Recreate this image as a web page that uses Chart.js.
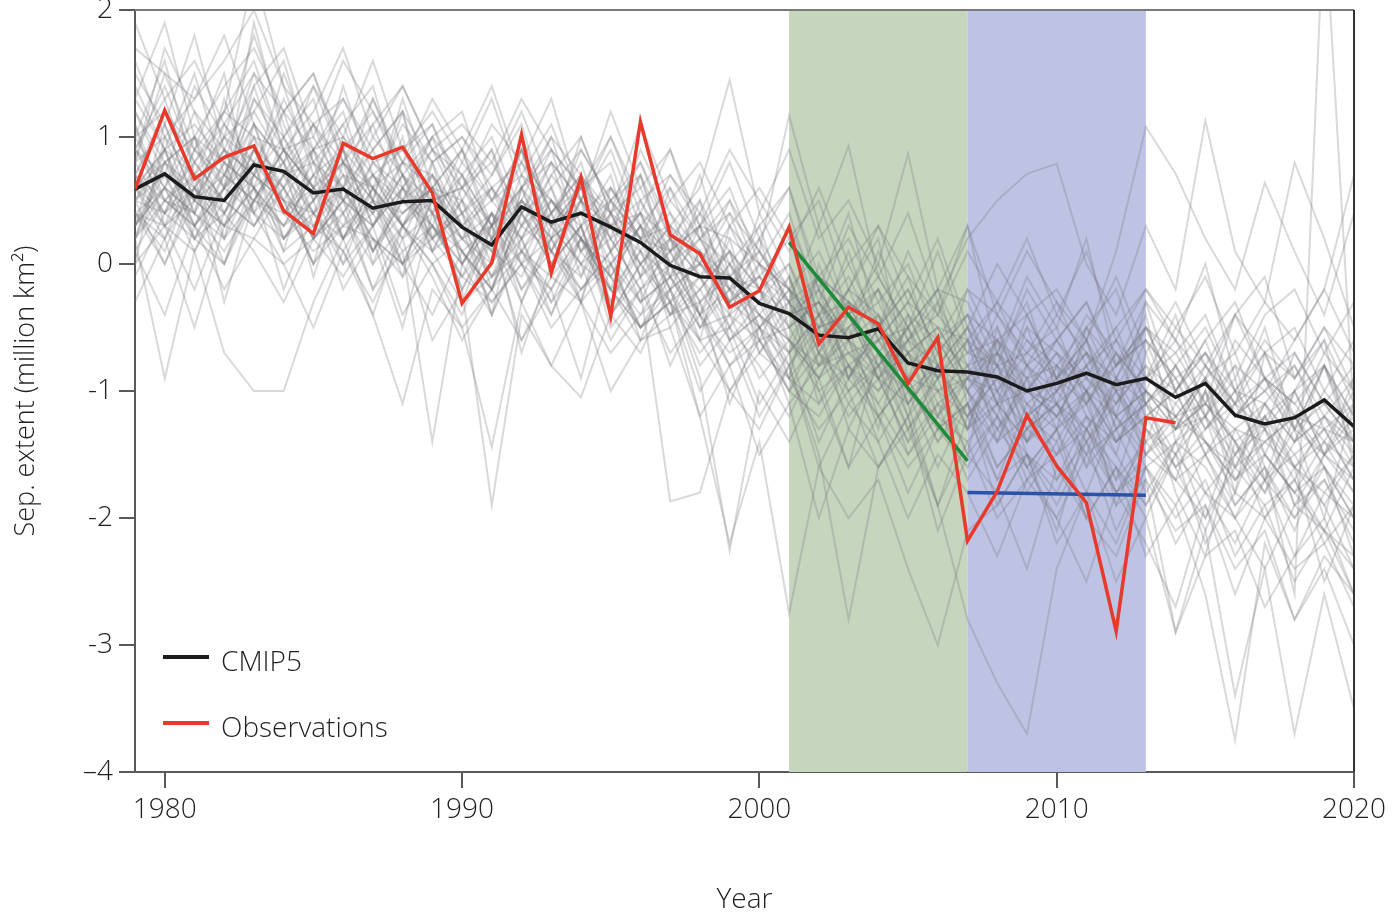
<!DOCTYPE html>
<html>
<head>
<meta charset="utf-8">
<script src="https://cdn.jsdelivr.net/npm/chart.js@4.4.1/dist/chart.umd.min.js"></script>
<style>
  html, body { margin: 0; padding: 0; background: #fff; }
  canvas { display: block; }
</style>
</head>
<body>
<canvas id="seaIceChart" width="1395" height="918"></canvas>
<script>
// years 1979..2020
const years = [];
for (let y = 1979; y <= 2020; y++) years.push(y);

const xTicks = [1980, 1990, 2000, 2010, 2020];
const yTicks = [-4, -3, -2, -1, 0, 1, 2];
const yTickLabels = ['\u20134', '-3', '-2', '-1', '0', '1', '2'];

// observed September extent anomaly, 1979..2014
const observed = [0.59, 1.21, 0.67, 0.84, 0.93, 0.42, 0.24, 0.95, 0.83, 0.92, 0.56,
  -0.31, 0.01, 1.02, -0.07, 0.68, -0.41, 1.12, 0.23, 0.08, -0.34,
  -0.21, 0.29, -0.63, -0.34, -0.47, -0.94, -0.58, -2.18, -1.79, -1.19,
  -1.59, -1.88, -2.89, -1.21, -1.25];

// CMIP5 multi-model mean, 1979..2020
const cmip5Mean = [0.59, 0.71, 0.53, 0.50, 0.78, 0.73, 0.56, 0.59, 0.44, 0.49, 0.50,
  0.29, 0.15, 0.45, 0.33, 0.40, 0.29, 0.17, -0.01, -0.10, -0.11,
  -0.31, -0.39, -0.56, -0.58, -0.51, -0.78, -0.84, -0.85, -0.89, -1.00,
  -0.94, -0.86, -0.95, -0.90, -1.05, -0.94, -1.19, -1.26, -1.21, -1.07,
  -1.28];

// trend lines
const trendYears = [2001, 2007];
const trendValues = [0.17, -1.55];
const pauseYears = [2007, 2013];
const pauseValues = [-1.80, -1.82];

// shaded periods
const bandStarts = [2001, 2007];
const bandEnds = [2007, 2013];
const bandColors = ['rgb(197,213,190)', 'rgb(190,195,228)'];

// individual ensemble members, 1979..2020
const ensemble = [
  [0.9, 1.3,0.6,0.2,1.1,0.8,0.4,0.9,0.3,0.7,0.1, 0.5,-0.2,0.6,0.1,0.7,0.2,0.4,-0.3,0.1,-0.5, 0.0,-0.6,-0.2,-0.9,-0.4,-1.1,-0.7,-1.3,-0.6,-1.4, -0.8,-1.0,-1.5,-0.7,-1.3,-0.9,-1.6,-1.1,-1.4,-0.8, -1.5],
  [0.3, 0.8,1.0,0.4,0.9,0.5,0.9,0.2,0.7,0.3,0.8, 0.0,0.4,0.2,0.6,-0.1,0.5,0.0,0.3,-0.4,0.2, -0.6,-0.1,-0.8,-0.3,-0.9,-0.5,-1.2,-0.6,-1.1,-0.8, -1.3,-0.5,-1.0,-1.4,-0.8,-1.2,-0.9,-1.7,-1.0,-1.5, -1.1],
  [1.1, 0.5,0.8,1.2,1.6,0.9,1.0,0.6,1.1,0.5,0.9, 0.7,0.3,0.9,0.4,0.6,0.8,0.1,0.5,0.2,0.4, -0.2,0.3,-0.4,-0.1,-0.6,-0.3,-0.5,-0.9,-0.4,-0.8, -0.6,-0.3,-0.9,-0.5,-0.7,-0.4,-1.0,-0.6,-0.9,-0.5, -1.0],
  [0.2, 0.6,0.1,0.5,0.3,0.6,0.0,0.4,-0.2,0.3,0.1, -0.3,-0.1,0.2,-0.4,0.1,-0.2,-0.5,-0.3,-0.7,-0.4, -0.9,-0.6,-1.0,-0.8,-1.2,-0.9,-1.4,-1.1,-1.6,-1.3, -1.5,-1.2,-1.8,-1.4,-1.7,-1.5,-1.9,-1.6,-2.0,-1.7, -2.1],
  [0.7, 0.4,0.9,0.7,1.3,1.0,0.5,0.8,0.6,0.2,0.7, 0.4,0.6,0.3,0.8,0.5,0.0,0.3,0.1,0.4,-0.2, 0.1,-0.3,-0.6,-0.2,-0.4,-0.9,-0.6,-0.4,-1.0,-0.7, -0.5,-1.1,-0.8,-0.6,-1.2,-0.9,-0.7,-1.3,-1.0,-0.8, -1.4],
  [0.5, 0.9,0.4,0.8,0.6,0.3,0.7,0.5,0.1,0.6,0.4, 0.1,-0.2,0.3,0.5,0.2,-0.1,0.3,-0.2,0.0,-0.3, -0.5,-0.2,-0.7,-0.9,-0.6,-1.0,-0.8,-1.2,-0.9,-1.1, -1.3,-1.0,-1.4,-1.2,-1.0,-1.5,-1.3,-1.1,-1.6,-1.4, -1.8],
  [0.8, 1.5,0.9,1.2,2.3,1.4,0.7,1.1,0.5,1.3,0.6, 0.9,0.2,1.0,0.4,0.8,0.1,0.7,-0.1,0.5,-0.4, 0.2,-0.2,-0.5,0.1,-0.6,-0.3,-0.8,-0.5,-1.1,-0.4, -0.9,-0.6,-1.2,-0.3,-1.0,-0.7,-1.1,-0.5,-1.3,-0.8, -1.2],
  [0.4, 0.2,0.6,0.0,0.5,0.4,0.1,0.3,0.5,0.0,0.2, 0.4,-0.1,0.1,-0.3,0.2,-0.1,-0.4,0.0,-0.2,-0.6, -0.3,-0.8,-0.5,-0.4,-0.9,-0.7,-1.0,-1.2,-0.9,-1.4, -1.1,-1.3,-1.0,-1.5,-1.2,-1.4,-1.7,-1.3,-1.6,-1.9, -1.5],
  [0.1, -0.4,0.3,-0.2,0.2,0.0,-0.5,0.1,-0.3,0.2,-0.6, -0.2,-1.9,-0.4,-0.8,-0.3,-1.0,-0.6,-0.5,-1.2,-0.8, -1.5,-1.1,-2.0,-1.3,-1.6,-1.2,-2.1,-1.5,-1.8,-2.4, -1.6,-2.0,-2.3,-1.7,-2.1,-1.9,-2.6,-2.0,-2.4,-2.2, -2.7],
  [1.0, 0.6,1.2,0.9,0.7,1.3,0.8,0.5,1.0,0.7,0.3, 0.8,0.5,0.2,0.7,0.4,0.6,0.2,0.4,-0.1,0.3, 0.0,-0.2,0.1,-0.4,-0.1,-0.5,-0.2,-0.7,-0.3,-0.6, -0.9,-0.4,-0.7,-1.0,-0.5,-0.8,-1.1,-0.7,-0.9,-0.6, -1.1],
  [0.6, 0.3,0.5,0.9,0.4,0.2,0.6,0.0,0.3,0.7,0.2, -0.1,0.4,0.0,0.2,-0.2,0.1,-0.3,-0.1,-0.5,-0.2, -0.7,-0.4,-0.3,-0.8,-0.6,-0.5,-1.0,-0.8,-1.3,-1.0, -0.7,-1.2,-1.4,-1.1,-0.9,-1.4,-1.6,-1.2,-1.5,-1.3, -1.7],
  [1.4, 0.9,1.1,0.8,1.5,1.2,0.9,1.3,0.8,0.9,1.1, 0.6,0.8,0.4,0.9,0.6,0.3,0.7,0.2,0.5,0.0, 0.3,0.6,-0.1,0.2,-0.3,0.0,-0.6,-0.2,-0.4,-0.7, -0.3,-0.8,-0.5,-0.2,-0.6,-0.9,-0.4,-0.7,-0.5,-1.0, -0.6],
  [0.3, 0.7,0.2,0.6,0.8,0.1,0.3,0.6,0.2,0.0,0.5, 0.1,0.3,0.6,0.0,0.3,-0.3,0.1,-0.4,-0.2,0.1, -0.5,-0.8,-0.4,-1.0,-0.7,-1.3,-0.9,-0.6,-1.4,-1.2, -1.0,-0.7,-1.3,-1.1,-1.5,-1.0,-1.7,-1.4,-1.2,-1.6, -1.9],
  [0.7, 1.1,0.5,0.3,0.9,0.6,0.2,0.5,0.7,0.4,0.6, 0.2,0.0,0.5,0.3,0.0,0.4,-0.1,0.2,-0.3,-0.1, -0.4,-0.6,-0.9,-0.5,-0.2,-1.0,-1.2,-0.8,-0.7,-1.1, -0.9,-1.4,-1.1,-0.8,-1.3,-1.2,-1.5,-1.8,-1.4,-1.2, -1.6],
  [-0.1, 0.4,0.2,0.0,0.6,0.3,0.5,-0.2,0.2,0.0,-0.4, 0.1,-0.3,0.0,-0.2,0.3,-0.5,-0.2,-0.7,-0.4,-1.0, -0.6,-0.9,-1.1,-0.8,-1.4,-1.0,-1.3,-1.6,-1.2,-1.5, -1.8,-1.3,-1.6,-2.0,-1.5,-1.8,-2.2,-1.7,-2.0,-1.6, -2.3],
  [0.9, 0.5,0.7,1.0,1.2,0.8,1.1,0.7,0.4,0.8,0.6, 0.9,0.5,0.7,0.3,0.6,0.4,0.0,0.3,0.1,-0.1, 0.2,-0.5,-0.3,-0.6,-0.2,-0.7,-0.9,-0.5,-0.8,-1.0, -1.2,-0.8,-0.6,-1.1,-1.3,-0.9,-1.2,-1.0,-0.8,-1.3, -1.1],
  [0.5, 0.8,1.0,0.6,1.1,0.4,0.7,0.9,0.3,0.6,0.2, 0.5,0.0,0.4,0.1,0.5,0.2,-0.2,0.1,-0.3,0.0, -0.4,-0.1,-0.7,-0.4,-0.8,-0.6,-0.3,-1.1,-0.8,-1.3, -0.9,-1.1,-0.7,-1.2,-1.0,-1.5,-1.1,-1.3,-1.7,-1.2, -1.4],
  [0.2, 0.5,0.3,0.7,0.5,0.9,0.3,0.1,0.5,0.2,0.4, -0.2,0.2,0.5,0.1,-0.1,0.3,0.0,-0.4,0.1,-0.3, -0.1,-0.5,-0.3,-0.7,-1.0,-0.6,-1.1,-0.9,-0.7,-1.2, -1.4,-1.0,-1.2,-1.5,-1.3,-1.1,-1.4,-1.7,-1.3,-1.5, -1.2],
  [1.2, 0.8,0.6,1.0,1.8,1.1,0.6,0.9,1.2,0.7,0.4, 0.7,0.3,0.8,0.5,0.2,0.6,0.3,0.0,0.2,-0.2, -0.1,-0.3,-0.6,-0.5,-0.3,-0.8,-0.6,-1.0,-0.7,-0.9, -0.6,-1.0,-0.8,-0.5,-1.0,-0.7,-1.2,-0.9,-1.1,-0.8, -1.3],
  [0.4, 0.0,0.5,0.3,0.2,0.6,0.2,0.4,0.0,0.3,-0.1, -0.6,-0.2,0.1,-0.1,0.2,-0.4,0.0,-0.3,-0.6,-0.5, -0.8,-1.2,-0.7,-1.0,-0.8,-1.5,-1.1,-1.3,-1.0,-1.6, -1.3,-1.1,-1.7,-1.4,-1.2,-1.8,-1.5,-1.3,-1.9,-1.5, -1.7],
  [0.6, 0.9,0.7,0.4,0.8,0.5,0.3,0.7,0.6,0.3,0.5, 0.2,0.4,0.1,0.5,0.2,0.0,0.3,-0.2,0.0,-0.3, -0.1,-0.4,-0.2,-0.6,-0.4,-0.7,-0.5,-0.9,-0.6,-0.8, -1.0,-0.7,-0.9,-1.1,-0.8,-1.3,-1.0,-1.6,-2.6,2.8, -1.2],
  [0.8, 0.4,0.6,0.9,0.7,1.0,0.6,0.3,0.8,0.5,0.7, 0.3,0.6,0.2,0.4,0.7,0.1,0.4,0.2,-0.1,0.1, -0.2,-0.5,-0.1,-0.3,-0.5,-0.2,-0.7,-0.4,-0.9,-0.5, -0.7,-1.0,-0.6,-0.9,-0.7,-1.1,-0.8,-1.0,-0.6,-0.2, 0.7],
  [0.0, 0.3,-0.2,0.4,0.1,-0.3,0.2,-0.1,0.3,-0.4,0.0, -0.5,-0.2,-0.6,-0.1,-0.3,-0.7,-0.4,-0.2,-0.8,-0.5, -1.1,-0.7,-1.4,-0.9,-1.2,-1.6,-1.3,-1.1,-1.7,-1.5, -1.9,-1.4,-1.8,-1.6,-2.2,-1.8,-2.0,-2.4,-1.9,-2.1, -2.6],
  [0.5, 0.7,0.3,0.6,0.9,0.4,0.6,0.2,0.5,0.1,0.3, 0.0,0.4,-0.2,0.1,-0.3,0.0,-0.5,-0.2,-0.6,-1.0, -0.7,-0.9,-1.3,-1.0,-1.6,-1.2,-1.9,-2.8,-3.3,-3.7, -2.4,-1.8,-2.2,-1.6,-2.0,-1.7,-2.3,-1.9,-2.5,-2.1, -2.4],
  [0.6, 0.2,0.8,0.5,0.3,0.7,0.4,0.6,0.1,0.5,0.3, 0.1,-0.2,0.4,0.0,0.3,-0.3,0.2,-0.4,-0.1,-0.6, -0.4,-0.9,-0.6,-1.1,-0.8,-1.3,-1.0,-1.5,-1.2,-1.8, -1.4,-2.0,-1.6,-2.3,-1.9,-2.6,-3.75,-2.2,-2.8,-2.4, -3.0],
  [0.3, 0.6,0.4,0.1,0.5,0.3,0.7,0.2,0.4,0.0,0.3, -0.1,0.2,-0.3,0.3,0.0,-0.2,-0.5,-0.1,-0.4,-0.7, -0.5,-1.0,-0.7,-1.2,-0.9,-1.4,-1.1,-1.7,-1.3,-1.6, -2.0,-1.5,-1.9,-1.7,-2.9,-2.1,-3.4,-2.4,-3.7,-2.6, -3.5],
  [0.7, 0.5,0.3,0.8,0.6,0.2,0.4,0.7,0.1,0.5,0.2, 0.4,-0.4,0.1,-0.2,0.2,-0.1,-0.5,-0.3,-1.2,-2.2, -1.4,-2.75,-1.6,-2.0,-1.7,-2.4,-3.0,-2.1,-1.9,-1.5, -2.2,-1.8,-2.5,-2.0,-2.9,-2.3,-2.1,-2.7,-2.3,-2.0, -2.6],
  [0.4, 0.3,0.1,0.6,0.4,0.0,0.2,0.5,-0.2,0.1,-1.4, 0.0,-0.4,0.2,-0.3,0.0,-0.6,-0.2,-1.87,-1.8,-1.0, -1.3,-0.8,-1.5,-2.8,-1.6,-1.3,-1.9,-1.4,-2.0,-1.7, -1.3,-2.0,-1.6,-1.9,-1.5,-2.2,-1.8,-2.0,-1.7,-2.1, -2.3],
  [0.2, -0.9,0.1,-0.7,-1.0,-1.0,-0.3,0.2,-0.4,-1.1,-0.2, -0.5,-1.44,-0.3,-0.8,-1.05,-0.4,-0.7,-0.2,-0.9,-2.26, -1.0,-1.4,-0.9,-1.6,-1.2,-1.8,-1.3,-1.1,-1.9,-1.5, -1.7,-1.4,-2.1,-1.6,-1.9,-1.5,-2.0,-1.7,-2.3,-1.8, -2.0],
  [1.7, 1.5,1.3,1.6,2.0,1.4,1.1,1.3,0.9,1.2,0.8, 1.0,0.7,1.2,0.6,0.9,0.5,0.8,0.3,0.6,1.45, 0.4,0.9,0.2,0.5,0.0,0.87,-0.2,0.3,-0.4,0.1, -0.3,-0.6,0.1,1.08,0.71,0.2,-0.2,0.64,0.1,-0.4, 0.4],
  [1.3, 1.9,1.0,1.4,1.7,1.2,1.5,0.8,1.1,1.4,0.9, 0.6,1.1,0.8,1.3,0.5,1.0,0.4,0.9,0.2,0.5, 0.1,1.17,0.3,0.93,-0.1,0.4,-0.3,0.2,0.5,0.71, 0.79,0.0,-0.4,0.3,-0.2,1.13,0.1,-0.3,0.8,0.2, -0.5],
  [0.9, 0.7,0.5,1.1,0.8,0.6,0.9,0.4,0.7,0.3,0.6, 0.5,0.2,0.6,0.3,0.5,0.1,0.4,-0.1,0.2,0.0, -0.3,0.0,-0.5,-0.2,-0.7,-0.4,-0.6,-0.8,-0.5,-1.0, -0.7,-0.9,-1.1,-0.8,-1.0,-0.6,-1.2,-0.9,-1.1,-1.4, -1.0],
  [0.5, 0.4,0.7,0.3,0.6,0.8,0.2,0.5,0.3,0.6,0.1, 0.3,0.1,-0.1,0.4,0.0,0.2,-0.2,0.0,-0.4,-0.2, -0.5,-0.7,-0.4,-0.9,-0.5,-1.1,-0.8,-1.0,-1.3,-0.9, -1.2,-1.0,-1.4,-1.2,-1.6,-1.3,-1.1,-1.5,-1.8,-1.4, -1.6],
  [0.8, 1.0,0.7,0.5,1.0,0.9,0.6,0.4,0.8,0.6,0.9, 0.4,0.1,0.7,0.5,0.3,0.5,0.2,0.3,0.0,-0.1, -0.2,-0.4,-0.3,-0.6,-0.8,-0.5,-0.9,-0.7,-0.8,-1.2, -1.0,-0.8,-1.2,-1.0,-1.3,-1.1,-1.4,-1.2,-1.0,-1.5, -1.3],
  [0.1, 0.5,0.4,0.2,0.7,0.5,0.0,0.3,0.2,-0.1,0.3, -0.1,-0.3,0.0,-0.5,-0.2,0.1,-0.6,-0.4,-0.3,-0.8, -0.6,-1.0,-1.2,-0.8,-1.1,-1.5,-1.2,-1.4,-1.1,-1.7, -1.5,-1.3,-1.8,-1.5,-1.7,-2.0,-1.6,-1.9,-1.7,-2.2, -1.9],
  [0.6, 0.8,0.5,0.7,0.5,0.9,0.6,0.8,0.5,0.4,0.6, 0.2,0.3,0.5,0.2,0.4,0.3,0.1,-0.1,0.0,-0.2, -0.4,-0.6,-0.8,-0.7,-0.6,-0.9,-1.0,-0.9,-1.1,-1.0, -1.1,-0.9,-1.2,-1.0,-1.2,-1.1,-1.3,-1.4,-1.2,-1.3, -1.4],
  [1.0, 1.2,0.9,0.6,1.4,0.7,0.9,1.0,0.6,0.8,0.7, 0.3,0.5,0.9,0.4,0.7,0.3,0.5,0.1,0.3,0.2, 0.0,-0.3,-0.1,-0.4,-0.2,-0.6,-0.4,-0.7,-0.6,-0.9, -0.8,-0.5,-0.8,-0.6,-0.9,-0.7,-1.0,-1.1,-0.8,-1.2, -0.9],
  [0.4, 0.6,0.2,0.4,0.7,0.5,0.4,0.2,0.6,0.3,0.0, 0.2,-0.1,0.3,0.1,-0.2,0.0,-0.3,-0.1,-0.5,-0.4, -0.6,-0.5,-0.9,-0.7,-0.9,-1.1,-0.8,-1.3,-1.1,-1.4, -1.2,-1.5,-1.3,-1.1,-1.6,-1.4,-1.7,-1.5,-1.8,-1.6, -2.0],
  [0.7, 0.3,0.6,0.4,0.9,0.7,0.8,0.6,0.4,0.7,0.5, 0.6,0.2,0.4,0.6,0.1,0.4,0.2,0.1,0.3,-0.1, 0.1,-0.2,-0.4,-0.3,-0.5,-0.7,-0.5,-0.6,-0.8,-0.7, -0.9,-0.6,-1.0,-0.9,-1.1,-0.8,-1.2,-1.0,-1.3,-1.1, -1.4],
  [0.2, 0.9,0.3,0.6,1.0,0.2,0.5,0.8,0.0,0.6,0.3, 0.0,0.3,-0.2,0.2,0.4,-0.2,0.1,-0.3,-0.1,-0.4, -0.2,-0.7,-0.4,-0.8,-1.0,-0.7,-1.2,-0.9,-1.0,-1.3, -1.1,-1.4,-1.0,-1.3,-1.5,-1.2,-1.6,-1.4,-1.6,-1.8, -1.5],
  [1.5, 1.1,1.8,0.9,1.4,1.7,1.0,1.6,1.2,0.8,1.3, 0.9,1.4,0.7,1.1,0.5,1.2,0.6,0.9,0.3,0.8, 0.2,0.6,-0.2,0.4,-0.5,0.1,-0.4,0.3,-0.7,-0.1, -0.5,0.2,-0.8,-0.3,-0.6,0.0,-0.9,-0.4,-0.2,-0.7, -0.3],
  [0.0, 1.0,0.4,1.3,0.6,0.1,0.9,1.2,0.5,-0.1,0.8, 0.3,-0.4,0.6,0.9,0.2,-0.2,0.5,0.0,-0.6,0.3, -0.2,-0.9,0.0,-0.6,-1.3,-0.4,-0.9,-1.5,-0.5,-1.2, -0.8,-1.6,-0.9,-0.4,-1.4,-1.0,-1.8,-0.7,-1.3,-2.0, -1.1],
  [1.1, 0.3,0.9,1.5,0.4,1.0,1.3,0.5,0.9,1.2,0.2, 0.7,0.1,0.5,1.0,0.3,0.7,-0.1,0.6,0.2,-0.3, 0.4,-0.1,-0.7,-0.2,0.2,-0.9,-0.3,-0.8,-1.2,-0.5, -1.1,-0.6,-1.3,-0.9,-0.4,-1.2,-0.8,-1.5,-1.0,-0.6, -1.6],
  [0.8, 1.7,1.2,0.6,1.9,1.0,1.4,0.8,1.3,0.7,1.0, 1.2,0.5,0.9,0.2,1.0,0.4,0.6,0.1,0.7,-0.1, -0.3,0.3,-0.2,-0.6,0.1,-0.4,-0.9,-0.2,-0.7,-0.3, -1.0,-0.5,-0.2,-0.9,-0.6,-1.1,-0.4,-0.9,-1.2,-0.7, -1.0],
  [0.4, 0.1,0.7,-0.3,0.5,0.8,-0.1,0.6,0.2,-0.5,0.4, -0.2,0.3,-0.7,0.0,0.5,-0.4,-0.1,-0.8,-0.3,-1.1, -0.5,-0.2,-1.0,-1.6,-0.7,-1.1,-1.9,-1.2,-0.8,-1.5, -2.1,-1.3,-1.7,-1.0,-1.8,-2.3,-1.4,-2.0,-1.6,-2.5, -1.9],
  [1.9, 1.3,1.6,1.1,1.5,0.9,1.2,1.7,1.0,1.4,0.9, 1.1,0.8,1.3,0.9,0.6,1.0,0.5,0.7,0.4,0.9, 0.5,0.1,0.6,0.0,0.3,-0.3,0.2,-0.5,0.0,-0.4, -0.2,-0.6,-0.1,-0.7,-0.3,-0.8,-0.4,-0.1,-0.9,-0.5, -0.8],
  [0.6, 0.9,0.2,0.7,1.1,0.5,0.0,0.8,0.4,1.0,0.1, 0.6,0.9,0.1,0.4,-0.3,0.6,0.2,-0.2,0.3,-0.6, -0.4,-0.7,-0.1,-0.9,-0.5,-1.2,-0.6,-1.0,-1.4,-0.8, -1.1,-1.5,-0.9,-1.3,-1.7,-1.0,-1.4,-1.8,-1.2,-1.6, -2.0],
  [0.9, 1.4,0.8,1.1,0.7,1.5,0.9,0.6,1.3,0.8,1.1, 0.5,0.9,0.3,0.7,1.0,0.4,0.8,0.2,0.0,0.5, -0.1,0.2,-0.4,0.0,-0.5,-0.2,-0.7,-0.4,-0.6,-1.0, -0.6,-0.9,-0.5,-1.1,-0.8,-0.5,-1.0,-1.3,-0.7,-1.1, -1.4],
  [0.3, 0.6,1.0,0.2,0.5,0.9,0.4,0.0,0.6,0.3,0.7, 0.0,0.4,-0.3,0.2,0.6,-0.1,0.3,-0.5,-0.2,0.1, -0.7,-0.3,-1.1,-0.6,-0.9,-1.4,-0.8,-1.2,-1.7,-1.1, -1.5,-1.0,-1.9,-1.3,-1.6,-2.1,-1.5,-1.2,-1.9,-1.7, -2.2],
  [1.2, 0.7,1.4,1.0,0.6,1.2,1.5,0.9,0.6,1.1,0.8, 1.0,0.6,0.8,0.3,0.9,0.5,0.2,0.7,0.3,0.6, 0.0,0.4,-0.3,0.3,-0.1,-0.5,0.1,-0.6,-0.3,-0.8, -0.4,-0.7,-1.0,-0.5,-0.8,-1.2,-0.6,-0.9,-1.3,-0.8, -1.2],
  [-0.3, 0.2,-0.5,0.3,0.6,-0.2,0.4,0.1,-0.4,0.3,0.0, -0.4,0.2,-0.6,-0.2,-0.9,0.0,-0.5,-0.3,-1.0,-0.6, -1.2,-0.8,-1.6,-1.1,-1.4,-2.0,-1.5,-1.8,-2.3,-1.7, -2.0,-2.5,-1.8,-2.2,-2.7,-1.9,-2.4,-2.1,-2.8,-2.3, -2.6],
  [0.7, 1.2,0.8,0.5,1.3,0.9,0.6,1.4,0.7,0.5,1.0, 0.4,0.7,1.1,0.3,0.6,0.2,0.9,0.4,0.1,-0.2, 0.3,-0.4,-0.1,-0.3,-0.8,-0.5,-0.2,-1.0,-0.6,-0.4, -0.9,-0.7,-1.1,-0.6,-0.9,-1.3,-1.0,-0.7,-1.2,-1.5, -0.9],
  [1.6, 1.0,1.3,1.8,1.1,0.8,1.4,1.0,1.6,0.9,1.2, 0.8,1.3,0.6,1.0,0.7,0.4,1.1,0.5,0.8,0.3, 0.6,0.2,0.5,-0.2,0.3,-0.1,-0.4,0.1,-0.3,0.2, -0.4,0.1,-0.6,-0.2,-0.5,-0.1,-0.7,-0.3,-0.6,-0.2, -0.7],
  [0.5, 0.0,0.6,0.3,0.8,0.2,0.5,0.9,0.1,0.4,0.6, 0.1,-0.2,0.4,0.0,0.3,-0.4,0.0,0.2,-0.5,-0.1, -0.6,-1.0,-0.5,-1.3,-0.8,-1.0,-1.6,-1.1,-1.4,-0.9, -1.7,-1.2,-1.5,-1.9,-1.4,-1.6,-2.0,-1.5,-1.8,-2.1, -1.6],
  [1.0, 1.6,0.7,1.2,1.0,0.6,1.1,0.8,0.5,1.2,0.4, 0.9,0.3,0.6,0.8,0.1,0.5,0.7,0.0,0.4,0.1, -0.2,0.0,-0.6,-0.3,-0.5,-0.1,-0.8,-0.5,-1.0,-0.6, -0.8,-1.1,-0.7,-1.0,-1.3,-0.8,-1.1,-0.9,-1.4,-1.0, -1.3],
  [0.2, 0.8,0.3,0.0,0.7,0.4,0.8,0.2,0.6,0.0,0.5, -0.3,0.3,0.0,-0.4,0.2,-0.2,-0.6,0.0,-0.4,-0.8, -0.5,-1.1,-0.8,-0.5,-1.2,-0.9,-1.4,-1.0,-1.6,-1.3, -1.1,-1.6,-1.3,-1.8,-1.4,-1.2,-1.9,-1.6,-2.1,-1.5, -1.8],
  [1.3, 0.9,1.5,0.7,1.2,1.6,0.8,1.1,1.4,0.6,1.0, 0.7,1.0,0.4,0.8,0.5,0.9,0.3,0.6,0.0,0.4, 0.1,-0.3,0.3,-0.4,0.0,-0.6,-0.2,-0.3,-0.8,-0.2, -0.6,-0.3,-0.8,-0.5,-1.0,-0.6,-0.3,-0.9,-0.7,-1.1, -0.8],
  [0.6, 0.4,1.0,0.8,0.3,0.7,1.1,0.5,0.3,0.8,0.4, 0.2,0.6,0.0,0.5,0.1,0.3,-0.3,0.2,-0.1,-0.5, -0.2,-0.6,-0.9,-0.4,-0.7,-1.2,-0.9,-0.6,-1.1,-1.4, -1.0,-1.3,-0.9,-1.5,-1.1,-1.4,-1.8,-1.2,-1.6,-1.3, -1.7],
  [0.9, 0.6,0.4,1.0,0.8,1.2,0.5,1.0,0.7,0.9,0.5, 0.6,0.3,0.9,0.1,0.5,0.3,0.4,0.0,0.3,-0.3, 0.0,-0.2,-0.5,-0.4,-0.9,-0.6,-0.8,-1.3,-0.7,-1.0, -1.2,-0.8,-1.4,-1.0,-1.2,-0.9,-1.5,-1.1,-1.4,-1.2, -1.5],
  [0.3, 1.1,0.5,0.9,0.4,0.7,0.2,0.6,0.9,0.3,0.6, 0.3,-0.1,0.5,0.2,-0.3,0.4,-0.1,0.1,-0.4,0.0, -0.5,-0.3,-0.8,-0.6,-1.1,-0.7,-1.3,-0.9,-1.2,-1.6, -1.3,-1.8,-1.2,-1.6,-1.4,-2.0,-1.3,-1.7,-1.5,-1.9, -2.4]
];

const FONT = '"Open Sans", "Liberation Sans", sans-serif';
const textColor = '#231f20';
const axisColor = '#58595b';

function pairs(xs, ys) {
  return ys.map((v, i) => ({ x: xs[i], y: v }));
}

const datasets = [];

datasets.push({
  label: 'Observations',
  data: pairs(years, observed),
  borderColor: '#e8392b',
  borderWidth: 3.5,
  order: 0
});
datasets.push({
  label: 'pause',
  data: pairs(pauseYears, pauseValues),
  borderColor: '#2a52a6',
  borderWidth: 3.5,
  order: 1
});
datasets.push({
  label: 'trend',
  data: pairs(trendYears, trendValues),
  borderColor: '#1e8b3a',
  borderWidth: 3.5,
  order: 2
});
datasets.push({
  label: 'CMIP5',
  data: pairs(years, cmip5Mean),
  borderColor: '#1b1b1b',
  borderWidth: 3.5,
  order: 3
});
ensemble.forEach(function (member, i) {
  datasets.push({
    label: 'member ' + (i + 1),
    data: pairs(years, member),
    borderColor: 'rgba(120,120,124,0.28)',
    borderWidth: 2,
    order: 10
  });
});

// shaded periods behind the lines
const bandsPlugin = {
  id: 'bands',
  beforeDatasetsDraw(chart) {
    const { ctx, chartArea, scales } = chart;
    ctx.save();
    for (let i = 0; i < bandStarts.length; i++) {
      const x0 = scales.x.getPixelForValue(bandStarts[i]);
      const x1 = scales.x.getPixelForValue(bandEnds[i]);
      ctx.fillStyle = bandColors[i];
      ctx.fillRect(x0, chartArea.top, x1 - x0, chartArea.bottom - chartArea.top);
    }
    ctx.restore();
  }
};

// top and right frame, plus the legend in the lower left
const framePlugin = {
  id: 'frame',
  afterDraw(chart) {
    const { ctx, chartArea } = chart;
    ctx.save();
    ctx.lineWidth = 2;
    ctx.strokeStyle = '#7a7a7a';
    ctx.beginPath();
    ctx.moveTo(chartArea.left, chartArea.top);
    ctx.lineTo(chartArea.right, chartArea.top);
    ctx.stroke();
    ctx.strokeStyle = '#333';
    ctx.beginPath();
    ctx.moveTo(chartArea.right, chartArea.top);
    ctx.lineTo(chartArea.right, chartArea.bottom);
    ctx.stroke();

    const entries = [chart.data.datasets[3], chart.data.datasets[0]];
    const lx = chartArea.left + 28;
    let ly = chartArea.bottom - 115;
    ctx.font = '300 28px ' + FONT;
    ctx.textBaseline = 'middle';
    ctx.fillStyle = textColor;
    entries.forEach(function (ds) {
      ctx.strokeStyle = ds.borderColor;
      ctx.lineWidth = 4;
      ctx.beginPath();
      ctx.moveTo(lx, ly);
      ctx.lineTo(lx + 46, ly);
      ctx.stroke();
      ctx.fillText(ds.label, lx + 58, ly + 6);
      ly += 66;
    });
    ctx.restore();
  }
};

new Chart(document.getElementById('seaIceChart'), {
  type: 'line',
  data: { datasets: datasets },
  plugins: [bandsPlugin, framePlugin],
  options: {
    responsive: false,
    animation: false,
    devicePixelRatio: 1,
    layout: { padding: { top: 10, right: 41, left: 0, bottom: 0 } },
    elements: {
      point: { radius: 0 },
      line: { tension: 0, borderCapStyle: 'butt', borderJoinStyle: 'miter' }
    },
    plugins: {
      legend: { display: false },
      tooltip: { enabled: false }
    },
    scales: {
      x: {
        type: 'linear',
        min: 1979,
        max: 2020,
        afterBuildTicks(scale) {
          scale.ticks = xTicks.map(v => ({ value: v }));
        },
        afterFit(scale) {
          scale.height = 146;
          scale.paddingLeft = 0;
          scale.paddingRight = 0;
        },
        ticks: {
          color: textColor,
          font: { family: FONT, size: 28, weight: '300' },
          padding: 5,
          maxRotation: 0,
          callback: v => String(v)
        },
        grid: { drawOnChartArea: false, tickLength: 16, color: axisColor, lineWidth: 2 },
        border: { color: axisColor, width: 2 },
        title: {
          display: true,
          text: 'Year',
          color: textColor,
          font: { family: FONT, size: 28, weight: '300' },
          padding: { top: 0, bottom: 1 }
        }
      },
      y: {
        min: -4,
        max: 2,
        afterBuildTicks(scale) {
          scale.ticks = yTicks.map(v => ({ value: v }));
        },
        afterFit(scale) {
          scale.width = 135;
          scale.paddingTop = 0;
          scale.paddingBottom = 0;
        },
        ticks: {
          color: textColor,
          font: { family: FONT, size: 28, weight: '300' },
          padding: 6,
          callback: v => yTickLabels[yTicks.indexOf(v)]
        },
        grid: { drawOnChartArea: false, tickLength: 16, color: axisColor, lineWidth: 2 },
        border: { color: axisColor, width: 2 },
        title: {
          display: true,
          text: 'Sep. extent (million km\u00b2)',
          color: textColor,
          font: { family: FONT, size: 27, weight: '300' },
          padding: { top: 10, bottom: 0 }
        }
      }
    }
  }
});
</script>
</body>
</html>
